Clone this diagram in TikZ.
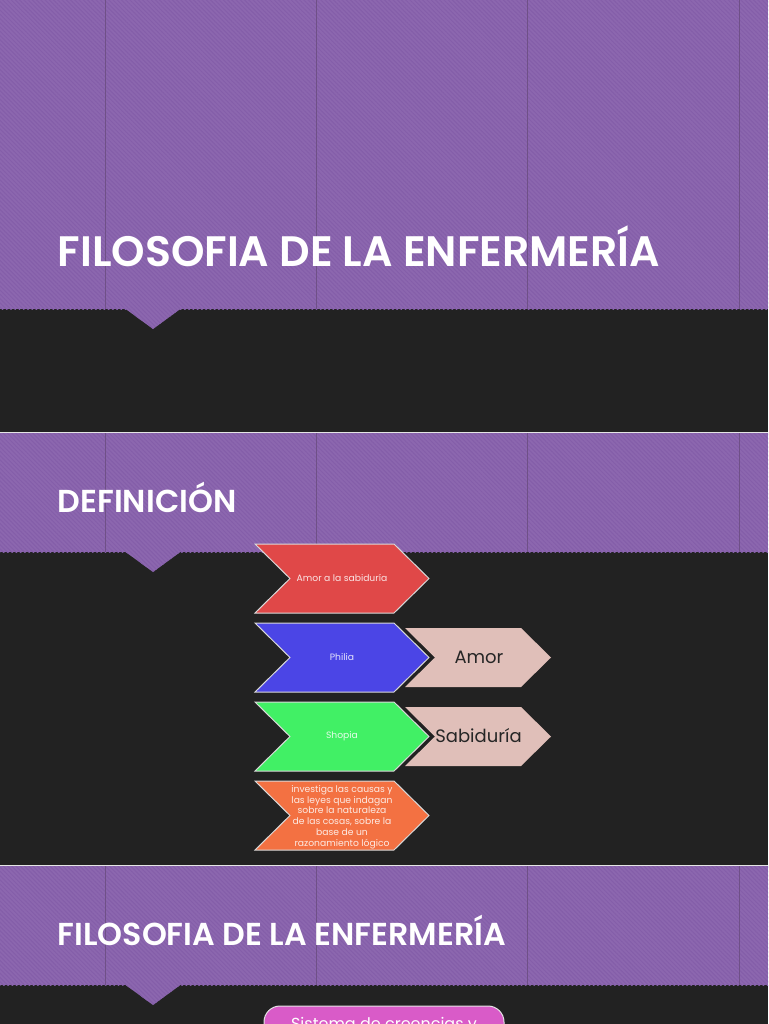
\documentclass[tikz,border=0pt]{standalone}
\usepackage{fontspec}
\setmainfont{Poppins}[BoldFont={Poppins SemiBold}]
\usetikzlibrary{patterns.meta}
\definecolor{panelpurple}{HTML}{8C67AF}
\definecolor{stripepurple}{HTML}{845EA9}
\definecolor{seampurple}{HTML}{6F5087}
\definecolor{paneldark}{HTML}{222222}
\definecolor{chevred}{HTML}{E04848}
\definecolor{chevblue}{HTML}{4B45E6}
\definecolor{chevgreen}{HTML}{41F065}
\definecolor{chevorange}{HTML}{F37142}
\definecolor{chevrose}{HTML}{E0BFB9}
\definecolor{pillpink}{HTML}{D95BC8}
\tikzset{
    headtext/.style={anchor=west,text=white,inner sep=0pt},
    chevtext/.style={text=white,text opacity=0.85,font=\fontsize{9.2}{10.7}\selectfont,align=center},
    rosetext/.style={text=black!85,font=\fontsize{18}{20}\selectfont}
}
\begin{document}
\begin{tikzpicture}[x=1pt,y=-1pt]
    \useasboundingbox (0,0) rectangle (768,1024);
    \clip (0,0) rectangle (768,1024);
    \fill[paneldark] (0,0) rectangle (768,1024);
    % the three header bands
    \foreach \ytop/\ybot in {0/309,433/552,866/985}{
        \fill[panelpurple] (0,\ytop) rectangle (768,\ybot);
        \fill[pattern={Lines[angle=-45,distance=3pt,line width=1pt]},pattern color=stripepurple] (0,\ytop) rectangle (768,\ybot);
        \foreach \x in {105,316.5,527.5,739.5}{
            \draw[seampurple,line width=0.7pt] (\x,\ytop)--(\x,\ybot);
        }
        \fill[panelpurple] (125,\ybot-0.5)--(153,\ybot+20)--(181,\ybot-0.5)--cycle;
        \fill[pattern={Lines[angle=-45,distance=3pt,line width=1pt]},pattern color=stripepurple] (125,\ybot-0.5)--(153,\ybot+20)--(181,\ybot-0.5)--cycle;
    }
    \draw[white!90!black,line width=0.8pt] (0,432.5)--(768,432.5);
    \draw[white!90!black,line width=0.8pt] (0,865.5)--(768,865.5);
    \node[headtext,font=\bfseries\fontsize{42.6}{46}\selectfont] (titleone) at (57.5,246) {FILOSOFIA DE LA ENFERMERÍA};
    \node[headtext,font=\bfseries\fontsize{31.7}{34}\selectfont] (titletwo) at (57.5,497) {DEFINICIÓN};
    \node[headtext,font=\bfseries\fontsize{31.7}{34}\selectfont] (titlethree) at (57.5,930) {FILOSOFIA DE LA ENFERMERÍA};
    % rose arrows go under the coloured ones
    \foreach \y in {657.5,736.5}{
        \fill[chevrose] (405,\y-29.5)--(521,\y-29.5)--(551,\y)--(521,\y+29.5)--(405,\y+29.5)--(435,\y)--cycle;
    }
    \foreach \y/\col in {578.5/chevred,657.5/chevblue,736.5/chevgreen,815.5/chevorange}{
        \draw[white!85!black,line width=1pt,fill=\col] (255,\y-34.5)--(394,\y-34.5)--(429,\y)--(394,\y+34.5)--(255,\y+34.5)--(290,\y)--cycle;
    }
    \node[chevtext] (amorsab) at (342,578) {Amor a la sabiduría};
    \node[chevtext] (philia) at (342,657.5) {Philia};
    \node[chevtext] (shopia) at (342,736.5) {Shopia};
    \node[chevtext] (investiga) at (342,817) {investiga las causas y\\las leyes que indagan\\sobre la naturaleza\\de las cosas, sobre la\\base de un\\razonamiento lógico};
    \node[rosetext] (amor) at (479,657) {Amor};
    \node[rosetext] (sabiduria) at (478.5,736) {Sabiduría};
    \draw[white!90!black,line width=1pt,fill=pillpink,rounded corners=16pt] (264,1006) rectangle (504,1070);
    \node[text=white,font=\fontsize{16}{18}\selectfont] (sistema) at (384,1025) {Sistema de creencias y};
\end{tikzpicture}
\end{document}
